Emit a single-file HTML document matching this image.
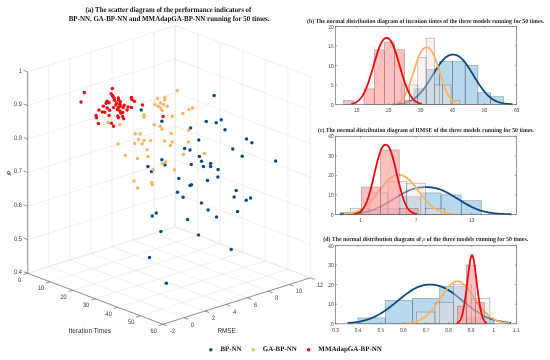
<!DOCTYPE html>
<html><head><meta charset="utf-8"><style>
html,body{margin:0;padding:0;background:#fff;width:550px;height:360px;overflow:hidden;}
svg{display:block;will-change:transform;} text{text-rendering:geometricPrecision;}
</style></head><body>
<svg width="550" height="360" viewBox="0 0 550 360">
<rect width="550" height="360" fill="#fff"/>
<line x1="27.75" y1="273.30" x2="175.24" y2="226.82" stroke="#e4e4e4" stroke-width="0.55" />
<line x1="50.27" y1="281.80" x2="197.77" y2="235.32" stroke="#e4e4e4" stroke-width="0.55" />
<line x1="72.80" y1="290.30" x2="220.29" y2="243.82" stroke="#e4e4e4" stroke-width="0.55" />
<line x1="95.33" y1="298.80" x2="242.81" y2="252.32" stroke="#e4e4e4" stroke-width="0.55" />
<line x1="117.85" y1="307.30" x2="265.34" y2="260.82" stroke="#e4e4e4" stroke-width="0.55" />
<line x1="140.38" y1="315.80" x2="287.87" y2="269.32" stroke="#e4e4e4" stroke-width="0.55" />
<line x1="162.90" y1="324.30" x2="310.39" y2="277.82" stroke="#e4e4e4" stroke-width="0.55" />
<line x1="27.75" y1="273.30" x2="162.90" y2="324.30" stroke="#e4e4e4" stroke-width="0.55" />
<line x1="48.82" y1="266.66" x2="183.97" y2="317.66" stroke="#e4e4e4" stroke-width="0.55" />
<line x1="69.89" y1="260.02" x2="205.04" y2="311.02" stroke="#e4e4e4" stroke-width="0.55" />
<line x1="90.96" y1="253.38" x2="226.11" y2="304.38" stroke="#e4e4e4" stroke-width="0.55" />
<line x1="112.03" y1="246.74" x2="247.18" y2="297.74" stroke="#e4e4e4" stroke-width="0.55" />
<line x1="133.10" y1="240.10" x2="268.25" y2="291.10" stroke="#e4e4e4" stroke-width="0.55" />
<line x1="154.17" y1="233.46" x2="289.32" y2="284.46" stroke="#e4e4e4" stroke-width="0.55" />
<line x1="175.24" y1="226.82" x2="310.39" y2="277.82" stroke="#e4e4e4" stroke-width="0.55" />
<line x1="27.75" y1="273.30" x2="27.75" y2="72.00" stroke="#e4e4e4" stroke-width="0.55" />
<line x1="48.82" y1="266.66" x2="48.82" y2="65.36" stroke="#e4e4e4" stroke-width="0.55" />
<line x1="69.89" y1="260.02" x2="69.89" y2="58.72" stroke="#e4e4e4" stroke-width="0.55" />
<line x1="90.96" y1="253.38" x2="90.96" y2="52.08" stroke="#e4e4e4" stroke-width="0.55" />
<line x1="112.03" y1="246.74" x2="112.03" y2="45.44" stroke="#e4e4e4" stroke-width="0.55" />
<line x1="133.10" y1="240.10" x2="133.10" y2="38.80" stroke="#e4e4e4" stroke-width="0.55" />
<line x1="154.17" y1="233.46" x2="154.17" y2="32.16" stroke="#e4e4e4" stroke-width="0.55" />
<line x1="175.24" y1="226.82" x2="175.24" y2="25.52" stroke="#e4e4e4" stroke-width="0.55" />
<line x1="27.75" y1="273.30" x2="175.24" y2="226.82" stroke="#e4e4e4" stroke-width="0.55" />
<line x1="27.75" y1="239.75" x2="175.24" y2="193.27" stroke="#e4e4e4" stroke-width="0.55" />
<line x1="27.75" y1="206.20" x2="175.24" y2="159.72" stroke="#e4e4e4" stroke-width="0.55" />
<line x1="27.75" y1="172.65" x2="175.24" y2="126.17" stroke="#e4e4e4" stroke-width="0.55" />
<line x1="27.75" y1="139.10" x2="175.24" y2="92.62" stroke="#e4e4e4" stroke-width="0.55" />
<line x1="27.75" y1="105.55" x2="175.24" y2="59.07" stroke="#e4e4e4" stroke-width="0.55" />
<line x1="27.75" y1="72.00" x2="175.24" y2="25.52" stroke="#e4e4e4" stroke-width="0.55" />
<line x1="175.24" y1="226.82" x2="175.24" y2="25.52" stroke="#e4e4e4" stroke-width="0.55" />
<line x1="197.77" y1="235.32" x2="197.77" y2="34.02" stroke="#e4e4e4" stroke-width="0.55" />
<line x1="220.29" y1="243.82" x2="220.29" y2="42.52" stroke="#e4e4e4" stroke-width="0.55" />
<line x1="242.81" y1="252.32" x2="242.81" y2="51.02" stroke="#e4e4e4" stroke-width="0.55" />
<line x1="265.34" y1="260.82" x2="265.34" y2="59.52" stroke="#e4e4e4" stroke-width="0.55" />
<line x1="287.87" y1="269.32" x2="287.87" y2="68.02" stroke="#e4e4e4" stroke-width="0.55" />
<line x1="310.39" y1="277.82" x2="310.39" y2="76.52" stroke="#e4e4e4" stroke-width="0.55" />
<line x1="175.24" y1="226.82" x2="310.39" y2="277.82" stroke="#e4e4e4" stroke-width="0.55" />
<line x1="175.24" y1="193.27" x2="310.39" y2="244.27" stroke="#e4e4e4" stroke-width="0.55" />
<line x1="175.24" y1="159.72" x2="310.39" y2="210.72" stroke="#e4e4e4" stroke-width="0.55" />
<line x1="175.24" y1="126.17" x2="310.39" y2="177.17" stroke="#e4e4e4" stroke-width="0.55" />
<line x1="175.24" y1="92.62" x2="310.39" y2="143.62" stroke="#e4e4e4" stroke-width="0.55" />
<line x1="175.24" y1="59.07" x2="310.39" y2="110.07" stroke="#e4e4e4" stroke-width="0.55" />
<line x1="175.24" y1="25.52" x2="310.39" y2="76.52" stroke="#e4e4e4" stroke-width="0.55" />
<line x1="27.75" y1="273.30" x2="27.75" y2="72.00" stroke="#707070" stroke-width="0.75" />
<line x1="27.75" y1="273.30" x2="162.90" y2="324.30" stroke="#707070" stroke-width="0.75" />
<line x1="162.90" y1="324.30" x2="310.39" y2="277.82" stroke="#707070" stroke-width="0.75" />
<line x1="27.75" y1="273.30" x2="23.54" y2="271.71" stroke="#707070" stroke-width="0.75" />
<text transform="translate(21.84,274.06) scale(0.86,1)" x="0" y="0" font-family="Liberation Sans" font-size="6.5" font-weight="normal" text-anchor="end" fill="#383838" >0.4</text>
<line x1="27.75" y1="239.75" x2="23.54" y2="238.16" stroke="#707070" stroke-width="0.75" />
<text transform="translate(21.84,240.51) scale(0.86,1)" x="0" y="0" font-family="Liberation Sans" font-size="6.5" font-weight="normal" text-anchor="end" fill="#383838" >0.5</text>
<line x1="27.75" y1="206.20" x2="23.54" y2="204.61" stroke="#707070" stroke-width="0.75" />
<text transform="translate(21.84,206.96) scale(0.86,1)" x="0" y="0" font-family="Liberation Sans" font-size="6.5" font-weight="normal" text-anchor="end" fill="#383838" >0.6</text>
<line x1="27.75" y1="172.65" x2="23.54" y2="171.06" stroke="#707070" stroke-width="0.75" />
<text transform="translate(21.84,173.41) scale(0.86,1)" x="0" y="0" font-family="Liberation Sans" font-size="6.5" font-weight="normal" text-anchor="end" fill="#383838" >0.7</text>
<line x1="27.75" y1="139.10" x2="23.54" y2="137.51" stroke="#707070" stroke-width="0.75" />
<text transform="translate(21.84,139.86) scale(0.86,1)" x="0" y="0" font-family="Liberation Sans" font-size="6.5" font-weight="normal" text-anchor="end" fill="#383838" >0.8</text>
<line x1="27.75" y1="105.55" x2="23.54" y2="103.96" stroke="#707070" stroke-width="0.75" />
<text transform="translate(21.84,106.31) scale(0.86,1)" x="0" y="0" font-family="Liberation Sans" font-size="6.5" font-weight="normal" text-anchor="end" fill="#383838" >0.9</text>
<line x1="27.75" y1="72.00" x2="23.54" y2="70.41" stroke="#707070" stroke-width="0.75" />
<text transform="translate(21.84,72.76) scale(0.86,1)" x="0" y="0" font-family="Liberation Sans" font-size="6.5" font-weight="normal" text-anchor="end" fill="#383838" >1</text>
<line x1="27.75" y1="273.30" x2="23.46" y2="274.65" stroke="#707070" stroke-width="0.75" />
<text transform="translate(19.45,282.25) scale(0.86,1)" x="0" y="0" font-family="Liberation Sans" font-size="6.5" font-weight="normal" text-anchor="middle" fill="#383838" >0</text>
<line x1="50.27" y1="281.80" x2="45.98" y2="283.15" stroke="#707070" stroke-width="0.75" />
<text transform="translate(41.08,290.45) scale(0.86,1)" x="0" y="0" font-family="Liberation Sans" font-size="6.5" font-weight="normal" text-anchor="middle" fill="#383838" >10</text>
<line x1="72.80" y1="290.30" x2="68.51" y2="291.65" stroke="#707070" stroke-width="0.75" />
<text transform="translate(63.60,298.95) scale(0.86,1)" x="0" y="0" font-family="Liberation Sans" font-size="6.5" font-weight="normal" text-anchor="middle" fill="#383838" >20</text>
<line x1="95.33" y1="298.80" x2="91.03" y2="300.15" stroke="#707070" stroke-width="0.75" />
<text transform="translate(86.12,307.45) scale(0.86,1)" x="0" y="0" font-family="Liberation Sans" font-size="6.5" font-weight="normal" text-anchor="middle" fill="#383838" >30</text>
<line x1="117.85" y1="307.30" x2="113.56" y2="308.65" stroke="#707070" stroke-width="0.75" />
<text transform="translate(108.65,315.95) scale(0.86,1)" x="0" y="0" font-family="Liberation Sans" font-size="6.5" font-weight="normal" text-anchor="middle" fill="#383838" >40</text>
<line x1="140.38" y1="315.80" x2="136.08" y2="317.15" stroke="#707070" stroke-width="0.75" />
<text transform="translate(131.18,324.45) scale(0.86,1)" x="0" y="0" font-family="Liberation Sans" font-size="6.5" font-weight="normal" text-anchor="middle" fill="#383838" >50</text>
<line x1="162.90" y1="324.30" x2="158.61" y2="325.65" stroke="#707070" stroke-width="0.75" />
<text transform="translate(153.70,332.95) scale(0.86,1)" x="0" y="0" font-family="Liberation Sans" font-size="6.5" font-weight="normal" text-anchor="middle" fill="#383838" >60</text>
<line x1="162.90" y1="324.30" x2="167.11" y2="325.89" stroke="#707070" stroke-width="0.75" />
<text transform="translate(172.50,333.15) scale(0.86,1)" x="0" y="0" font-family="Liberation Sans" font-size="6.5" font-weight="normal" text-anchor="middle" fill="#383838" >-2</text>
<line x1="183.97" y1="317.66" x2="188.18" y2="319.25" stroke="#707070" stroke-width="0.75" />
<text transform="translate(192.37,326.81) scale(0.86,1)" x="0" y="0" font-family="Liberation Sans" font-size="6.5" font-weight="normal" text-anchor="middle" fill="#383838" >0</text>
<line x1="205.04" y1="311.02" x2="209.25" y2="312.61" stroke="#707070" stroke-width="0.75" />
<text transform="translate(213.44,320.17) scale(0.86,1)" x="0" y="0" font-family="Liberation Sans" font-size="6.5" font-weight="normal" text-anchor="middle" fill="#383838" >2</text>
<line x1="226.11" y1="304.38" x2="230.32" y2="305.97" stroke="#707070" stroke-width="0.75" />
<text transform="translate(234.51,313.53) scale(0.86,1)" x="0" y="0" font-family="Liberation Sans" font-size="6.5" font-weight="normal" text-anchor="middle" fill="#383838" >4</text>
<line x1="247.18" y1="297.74" x2="251.39" y2="299.33" stroke="#707070" stroke-width="0.75" />
<text transform="translate(255.58,306.89) scale(0.86,1)" x="0" y="0" font-family="Liberation Sans" font-size="6.5" font-weight="normal" text-anchor="middle" fill="#383838" >6</text>
<line x1="268.25" y1="291.10" x2="272.46" y2="292.69" stroke="#707070" stroke-width="0.75" />
<text transform="translate(276.65,300.25) scale(0.86,1)" x="0" y="0" font-family="Liberation Sans" font-size="6.5" font-weight="normal" text-anchor="middle" fill="#383838" >8</text>
<line x1="289.32" y1="284.46" x2="293.53" y2="286.05" stroke="#707070" stroke-width="0.75" />
<text transform="translate(298.92,293.31) scale(0.86,1)" x="0" y="0" font-family="Liberation Sans" font-size="6.5" font-weight="normal" text-anchor="middle" fill="#383838" >10</text>
<line x1="310.39" y1="277.82" x2="314.60" y2="279.41" stroke="#707070" stroke-width="0.75" />
<text transform="translate(319.99,286.67) scale(0.86,1)" x="0" y="0" font-family="Liberation Sans" font-size="6.5" font-weight="normal" text-anchor="middle" fill="#383838" >12</text>
<text x="89.85" y="332.50" font-family="Liberation Sans" font-size="7.2" font-weight="normal" text-anchor="middle" fill="#2a2a2a" textLength="42.3" lengthAdjust="spacingAndGlyphs">Iteration Times</text>
<text x="226.60" y="333.20" font-family="Liberation Sans" font-size="7.2" font-weight="normal" text-anchor="middle" fill="#2a2a2a" textLength="18.4" lengthAdjust="spacingAndGlyphs">RMSE</text>
<ellipse cx="8.6" cy="172.7" rx="1.45" ry="1.45" fill="none" stroke="#3a3a3a" stroke-width="0.75"/>
<path d="M8.0,174.1 Q9.6,174.4 11.3,174.9" fill="none" stroke="#3a3a3a" stroke-width="0.8"/>
<circle cx="141.25" cy="110" r="1.75" fill="#0b4a84"/>
<circle cx="161.9" cy="121.25" r="1.75" fill="#0b4a84"/>
<circle cx="214.1" cy="95.4" r="1.75" fill="#0b4a84"/>
<circle cx="206.25" cy="121.5" r="1.75" fill="#0b4a84"/>
<circle cx="216.25" cy="122.75" r="1.75" fill="#0b4a84"/>
<circle cx="221.25" cy="119.75" r="1.75" fill="#0b4a84"/>
<circle cx="190.6" cy="127.9" r="1.75" fill="#0b4a84"/>
<circle cx="225" cy="129.75" r="1.75" fill="#0b4a84"/>
<circle cx="198.75" cy="140" r="1.75" fill="#0b4a84"/>
<circle cx="184.6" cy="148.5" r="1.75" fill="#0b4a84"/>
<circle cx="190" cy="150" r="1.75" fill="#0b4a84"/>
<circle cx="199.4" cy="156.5" r="1.75" fill="#0b4a84"/>
<circle cx="201.5" cy="161.25" r="1.75" fill="#0b4a84"/>
<circle cx="210.6" cy="163.4" r="1.75" fill="#0b4a84"/>
<circle cx="191.25" cy="164.6" r="1.75" fill="#0b4a84"/>
<circle cx="246.5" cy="139.1" r="1.75" fill="#0b4a84"/>
<circle cx="251.9" cy="142.75" r="1.75" fill="#0b4a84"/>
<circle cx="232.75" cy="149" r="1.75" fill="#0b4a84"/>
<circle cx="242.25" cy="156.25" r="1.75" fill="#0b4a84"/>
<circle cx="275.6" cy="160.9" r="1.75" fill="#0b4a84"/>
<circle cx="161.9" cy="159.75" r="1.75" fill="#0b4a84"/>
<circle cx="165" cy="164.9" r="1.75" fill="#0b4a84"/>
<circle cx="147.9" cy="166.6" r="1.75" fill="#0b4a84"/>
<circle cx="151.6" cy="171.5" r="1.75" fill="#0b4a84"/>
<circle cx="210.6" cy="166.5" r="1.75" fill="#0b4a84"/>
<circle cx="203.4" cy="166.6" r="1.75" fill="#0b4a84"/>
<circle cx="218.1" cy="169.6" r="1.75" fill="#0b4a84"/>
<circle cx="217.9" cy="176.9" r="1.75" fill="#0b4a84"/>
<circle cx="207.5" cy="180.4" r="1.75" fill="#0b4a84"/>
<circle cx="178.75" cy="178.5" r="1.75" fill="#0b4a84"/>
<circle cx="190" cy="185.4" r="1.75" fill="#0b4a84"/>
<circle cx="191.5" cy="184.75" r="1.75" fill="#0b4a84"/>
<circle cx="177.5" cy="192.25" r="1.75" fill="#0b4a84"/>
<circle cx="183.1" cy="197.25" r="1.75" fill="#0b4a84"/>
<circle cx="201.5" cy="202.9" r="1.75" fill="#0b4a84"/>
<circle cx="236.25" cy="190.6" r="1.75" fill="#0b4a84"/>
<circle cx="234.1" cy="197.1" r="1.75" fill="#0b4a84"/>
<circle cx="246.25" cy="200.25" r="1.75" fill="#0b4a84"/>
<circle cx="250.6" cy="198.1" r="1.75" fill="#0b4a84"/>
<circle cx="156.25" cy="213.1" r="1.75" fill="#0b4a84"/>
<circle cx="152.25" cy="215.9" r="1.75" fill="#0b4a84"/>
<circle cx="160.9" cy="231.6" r="1.75" fill="#0b4a84"/>
<circle cx="208.1" cy="210" r="1.75" fill="#0b4a84"/>
<circle cx="216.5" cy="216.9" r="1.75" fill="#0b4a84"/>
<circle cx="187.5" cy="219.4" r="1.75" fill="#0b4a84"/>
<circle cx="198.5" cy="235" r="1.75" fill="#0b4a84"/>
<circle cx="237.5" cy="211.6" r="1.75" fill="#0b4a84"/>
<circle cx="149.5" cy="257.5" r="1.75" fill="#0b4a84"/>
<circle cx="166.3" cy="283.3" r="1.75" fill="#0b4a84"/>
<circle cx="231.2" cy="249.5" r="1.75" fill="#0b4a84"/>
<circle cx="107.9" cy="122.2" r="1.75" fill="#fdb462"/>
<circle cx="119.8" cy="124.8" r="1.75" fill="#fdb462"/>
<circle cx="177.25" cy="90.6" r="1.75" fill="#fdb462"/>
<circle cx="157.5" cy="98.4" r="1.75" fill="#fdb462"/>
<circle cx="164.75" cy="97.5" r="1.75" fill="#fdb462"/>
<circle cx="164.75" cy="100" r="1.75" fill="#fdb462"/>
<circle cx="160.4" cy="103.1" r="1.75" fill="#fdb462"/>
<circle cx="163.75" cy="104.4" r="1.75" fill="#fdb462"/>
<circle cx="155" cy="104.6" r="1.75" fill="#fdb462"/>
<circle cx="158.1" cy="106.25" r="1.75" fill="#fdb462"/>
<circle cx="167.25" cy="106.25" r="1.75" fill="#fdb462"/>
<circle cx="160.6" cy="108.1" r="1.75" fill="#fdb462"/>
<circle cx="162.25" cy="110.6" r="1.75" fill="#fdb462"/>
<circle cx="144" cy="114.4" r="1.75" fill="#fdb462"/>
<circle cx="144" cy="117.25" r="1.75" fill="#fdb462"/>
<circle cx="172.25" cy="116.5" r="1.75" fill="#fdb462"/>
<circle cx="182.9" cy="113.5" r="1.75" fill="#fdb462"/>
<circle cx="154.3" cy="124.8" r="1.75" fill="#fdb462"/>
<circle cx="192.5" cy="107.75" r="1.75" fill="#fdb462"/>
<circle cx="189.1" cy="109.6" r="1.75" fill="#fdb462"/>
<circle cx="117.9" cy="144.1" r="1.75" fill="#fdb462"/>
<circle cx="135.4" cy="133.75" r="1.75" fill="#fdb462"/>
<circle cx="140.25" cy="134" r="1.75" fill="#fdb462"/>
<circle cx="138.4" cy="139.4" r="1.75" fill="#fdb462"/>
<circle cx="144.1" cy="140.6" r="1.75" fill="#fdb462"/>
<circle cx="142.25" cy="143.75" r="1.75" fill="#fdb462"/>
<circle cx="134.75" cy="143.4" r="1.75" fill="#fdb462"/>
<circle cx="150.6" cy="140.6" r="1.75" fill="#fdb462"/>
<circle cx="160.25" cy="126.25" r="1.75" fill="#fdb462"/>
<circle cx="162.1" cy="129.1" r="1.75" fill="#fdb462"/>
<circle cx="171.25" cy="133.5" r="1.75" fill="#fdb462"/>
<circle cx="164.4" cy="141" r="1.75" fill="#fdb462"/>
<circle cx="172.25" cy="141.9" r="1.75" fill="#fdb462"/>
<circle cx="170.4" cy="145.4" r="1.75" fill="#fdb462"/>
<circle cx="147.1" cy="149.75" r="1.75" fill="#fdb462"/>
<circle cx="125.25" cy="155.25" r="1.75" fill="#fdb462"/>
<circle cx="147.9" cy="156.5" r="1.75" fill="#fdb462"/>
<circle cx="137.5" cy="158.5" r="1.75" fill="#fdb462"/>
<circle cx="165.6" cy="161.9" r="1.75" fill="#fdb462"/>
<circle cx="162.5" cy="163.75" r="1.75" fill="#fdb462"/>
<circle cx="188.75" cy="130.25" r="1.75" fill="#fdb462"/>
<circle cx="188.5" cy="142.1" r="1.75" fill="#fdb462"/>
<circle cx="183.5" cy="154.4" r="1.75" fill="#fdb462"/>
<circle cx="204.4" cy="153.4" r="1.75" fill="#fdb462"/>
<circle cx="153.1" cy="169.75" r="1.75" fill="#fdb462"/>
<circle cx="174.4" cy="170" r="1.75" fill="#fdb462"/>
<circle cx="134" cy="181" r="1.75" fill="#fdb462"/>
<circle cx="151.9" cy="182.5" r="1.75" fill="#fdb462"/>
<circle cx="152.25" cy="184.75" r="1.75" fill="#fdb462"/>
<circle cx="137.5" cy="188.1" r="1.75" fill="#fdb462"/>
<circle cx="112.5" cy="95.5" r="1.75" fill="#eb0a0f"/>
<circle cx="114.0" cy="97.9" r="1.75" fill="#eb0a0f"/>
<circle cx="114.4" cy="100.3" r="1.75" fill="#eb0a0f"/>
<circle cx="118.3" cy="97.9" r="1.75" fill="#eb0a0f"/>
<circle cx="118.8" cy="100.3" r="1.75" fill="#eb0a0f"/>
<circle cx="120.3" cy="101.8" r="1.75" fill="#eb0a0f"/>
<circle cx="119.8" cy="104.2" r="1.75" fill="#eb0a0f"/>
<circle cx="107.1" cy="101.3" r="1.75" fill="#eb0a0f"/>
<circle cx="109.1" cy="102.8" r="1.75" fill="#eb0a0f"/>
<circle cx="106.2" cy="103.3" r="1.75" fill="#eb0a0f"/>
<circle cx="103.3" cy="106.2" r="1.75" fill="#eb0a0f"/>
<circle cx="98.9" cy="110.1" r="1.75" fill="#eb0a0f"/>
<circle cx="102.3" cy="112.0" r="1.75" fill="#eb0a0f"/>
<circle cx="104.7" cy="112.3" r="1.75" fill="#eb0a0f"/>
<circle cx="107.1" cy="108.1" r="1.75" fill="#eb0a0f"/>
<circle cx="109.6" cy="110.3" r="1.75" fill="#eb0a0f"/>
<circle cx="113.5" cy="107.4" r="1.75" fill="#eb0a0f"/>
<circle cx="115.9" cy="104.7" r="1.75" fill="#eb0a0f"/>
<circle cx="118.3" cy="107.6" r="1.75" fill="#eb0a0f"/>
<circle cx="117.4" cy="109.6" r="1.75" fill="#eb0a0f"/>
<circle cx="119.8" cy="111.0" r="1.75" fill="#eb0a0f"/>
<circle cx="122.7" cy="112.5" r="1.75" fill="#eb0a0f"/>
<circle cx="120.8" cy="113.0" r="1.75" fill="#eb0a0f"/>
<circle cx="124.2" cy="105.2" r="1.75" fill="#eb0a0f"/>
<circle cx="123.2" cy="107.6" r="1.75" fill="#eb0a0f"/>
<circle cx="128.0" cy="107.1" r="1.75" fill="#eb0a0f"/>
<circle cx="127.1" cy="110.1" r="1.75" fill="#eb0a0f"/>
<circle cx="131.4" cy="107.6" r="1.75" fill="#eb0a0f"/>
<circle cx="131.4" cy="97.4" r="1.75" fill="#eb0a0f"/>
<circle cx="131.9" cy="99.4" r="1.75" fill="#eb0a0f"/>
<circle cx="134.4" cy="101.3" r="1.75" fill="#eb0a0f"/>
<circle cx="96.0" cy="115.4" r="1.75" fill="#eb0a0f"/>
<circle cx="96.5" cy="117.8" r="1.75" fill="#eb0a0f"/>
<circle cx="109.1" cy="115.4" r="1.75" fill="#eb0a0f"/>
<circle cx="117.8" cy="115.9" r="1.75" fill="#eb0a0f"/>
<circle cx="118.3" cy="117.8" r="1.75" fill="#eb0a0f"/>
<circle cx="122.7" cy="116.4" r="1.75" fill="#eb0a0f"/>
<circle cx="123.7" cy="118.8" r="1.75" fill="#eb0a0f"/>
<circle cx="98.4" cy="123.4" r="1.75" fill="#eb0a0f"/>
<circle cx="111.5" cy="123.2" r="1.75" fill="#eb0a0f"/>
<circle cx="113.5" cy="126.3" r="1.75" fill="#eb0a0f"/>
<circle cx="112.3" cy="88.6" r="1.75" fill="#eb0a0f"/>
<circle cx="111.1" cy="93.7" r="1.75" fill="#eb0a0f"/>
<circle cx="84.4" cy="92.5" r="1.75" fill="#eb0a0f"/>
<circle cx="81.0" cy="102.1" r="1.75" fill="#eb0a0f"/>
<circle cx="142.5" cy="105" r="1.75" fill="#eb0a0f"/>
<circle cx="163.1" cy="116.5" r="1.75" fill="#eb0a0f"/>
<circle cx="120.2" cy="106.2" r="1.75" fill="#eb0a0f"/>
<circle cx="112.8" cy="96.5" r="1.75" fill="#eb0a0f"/>
<circle cx="116.5" cy="103" r="1.75" fill="#eb0a0f"/>
<text x="168.40" y="11.90" font-family="Liberation Serif" font-size="7.6" font-weight="bold" text-anchor="middle" fill="#111" textLength="165.8" lengthAdjust="spacingAndGlyphs">(a) The scatter diagram of the performance indicators of</text>
<text x="169.10" y="21.30" font-family="Liberation Serif" font-size="7.6" font-weight="bold" text-anchor="middle" fill="#111" textLength="200.8" lengthAdjust="spacingAndGlyphs">BP-NN, GA-BP-NN and MMAdapGA-BP-NN running for 50 times.</text>
<rect x="413.91" y="88.88" width="12.81" height="15.62" fill="rgba(0,114,189,0.28)" stroke="#3a3a3a" stroke-opacity="0.55" stroke-width="0.5"/>
<rect x="426.72" y="69.36" width="12.81" height="35.14" fill="rgba(0,114,189,0.28)" stroke="#3a3a3a" stroke-opacity="0.55" stroke-width="0.5"/>
<rect x="439.53" y="61.55" width="12.81" height="42.95" fill="rgba(0,114,189,0.28)" stroke="#3a3a3a" stroke-opacity="0.55" stroke-width="0.5"/>
<rect x="452.34" y="61.55" width="12.81" height="42.95" fill="rgba(0,114,189,0.28)" stroke="#3a3a3a" stroke-opacity="0.55" stroke-width="0.5"/>
<rect x="465.15" y="65.45" width="12.81" height="39.05" fill="rgba(0,114,189,0.28)" stroke="#3a3a3a" stroke-opacity="0.55" stroke-width="0.5"/>
<rect x="477.96" y="92.78" width="12.81" height="11.72" fill="rgba(0,114,189,0.28)" stroke="#3a3a3a" stroke-opacity="0.55" stroke-width="0.5"/>
<rect x="490.77" y="96.69" width="12.81" height="7.81" fill="rgba(0,114,189,0.28)" stroke="#3a3a3a" stroke-opacity="0.55" stroke-width="0.5"/>
<polyline points="392.60,104.31 393.60,104.27 394.60,104.22 395.60,104.16 396.60,104.09 397.60,104.01 398.60,103.91 399.60,103.80 400.60,103.67 401.60,103.51 402.60,103.34 403.60,103.14 404.60,102.91 405.60,102.65 406.60,102.35 407.60,102.02 408.60,101.65 409.60,101.22 410.60,100.76 411.60,100.24 412.60,99.66 413.60,99.03 414.60,98.33 415.60,97.58 416.60,96.75 417.60,95.86 418.60,94.90 419.60,93.88 420.60,92.78 421.60,91.61 422.60,90.38 423.60,89.08 424.60,87.72 425.60,86.30 426.60,84.83 427.60,83.31 428.60,81.74 429.60,80.14 430.60,78.52 431.60,76.88 432.60,75.23 433.60,73.57 434.60,71.93 435.60,70.31 436.60,68.73 437.60,67.18 438.60,65.69 439.60,64.26 440.60,62.90 441.60,61.63 442.60,60.44 443.60,59.35 444.60,58.37 445.60,57.49 446.60,56.73 447.60,56.08 448.60,55.56 449.60,55.15 450.60,54.86 451.60,54.68 452.60,54.61 453.60,54.61 454.60,54.71 455.60,54.91 456.60,55.22 457.60,55.65 458.60,56.20 459.60,56.87 460.60,57.66 461.60,58.55 462.60,59.56 463.60,60.67 464.60,61.87 465.60,63.17 466.60,64.54 467.60,65.98 468.60,67.49 469.60,69.04 470.60,70.64 471.60,72.26 472.60,73.90 473.60,75.56 474.60,77.21 475.60,78.85 476.60,80.47 477.60,82.06 478.60,83.61 479.60,85.13 480.60,86.59 481.60,88.00 482.60,89.34 483.60,90.63 484.60,91.85 485.60,93.00 486.60,94.09 487.60,95.10 488.60,96.05 489.60,96.92 490.60,97.73 491.60,98.48 492.60,99.16 493.60,99.78 494.60,100.34 495.60,100.85 496.60,101.31 497.60,101.72 498.60,102.09 499.60,102.42 500.60,102.71 501.60,102.96 502.60,103.18 503.60,103.38 504.60,103.55 505.60,103.69 506.60,103.82 507.60,103.93 508.60,104.02 509.60,104.10 510.60,104.17 511.60,104.23 512.60,104.28" fill="none" stroke="#0b4a84" stroke-width="1.8" stroke-linejoin="round" stroke-linecap="butt"/>
<rect x="401.20" y="84.97" width="8.30" height="19.53" fill="rgba(240,224,222,0.42)" stroke="#3a3a3a" stroke-opacity="0.55" stroke-width="0.5"/>
<rect x="409.50" y="84.97" width="8.30" height="19.53" fill="rgba(240,224,222,0.42)" stroke="#3a3a3a" stroke-opacity="0.55" stroke-width="0.5"/>
<rect x="417.80" y="57.64" width="8.30" height="46.86" fill="rgba(240,224,222,0.42)" stroke="#3a3a3a" stroke-opacity="0.55" stroke-width="0.5"/>
<rect x="426.10" y="38.12" width="8.30" height="66.38" fill="rgba(240,224,222,0.42)" stroke="#3a3a3a" stroke-opacity="0.55" stroke-width="0.5"/>
<rect x="434.40" y="84.97" width="8.30" height="19.53" fill="rgba(240,224,222,0.42)" stroke="#3a3a3a" stroke-opacity="0.55" stroke-width="0.5"/>
<rect x="442.70" y="84.97" width="8.30" height="19.53" fill="rgba(240,224,222,0.42)" stroke="#3a3a3a" stroke-opacity="0.55" stroke-width="0.5"/>
<rect x="451.00" y="100.59" width="8.30" height="3.91" fill="rgba(240,224,222,0.42)" stroke="#3a3a3a" stroke-opacity="0.55" stroke-width="0.5"/>
<polyline points="392.00,104.21 392.58,104.15 393.15,104.08 393.73,103.99 394.31,103.88 394.88,103.75 395.46,103.61 396.04,103.44 396.61,103.24 397.19,103.01 397.77,102.75 398.34,102.45 398.92,102.11 399.50,101.72 400.07,101.28 400.65,100.79 401.23,100.25 401.80,99.64 402.38,98.96 402.96,98.22 403.53,97.41 404.11,96.52 404.69,95.56 405.26,94.52 405.84,93.40 406.42,92.20 406.99,90.92 407.57,89.56 408.15,88.13 408.72,86.63 409.30,85.06 409.88,83.42 410.45,81.73 411.03,79.99 411.61,78.21 412.18,76.40 412.76,74.56 413.34,72.70 413.91,70.85 414.49,69.00 415.07,67.17 415.64,65.37 416.22,63.61 416.80,61.90 417.37,60.26 417.95,58.68 418.53,57.19 419.10,55.79 419.68,54.48 420.26,53.28 420.83,52.19 421.41,51.22 421.99,50.36 422.56,49.62 423.14,48.99 423.72,48.49 424.29,48.09 424.87,47.81 425.45,47.62 426.02,47.52 426.60,47.50 427.18,47.52 427.75,47.62 428.33,47.81 428.91,48.09 429.48,48.49 430.06,48.99 430.64,49.62 431.21,50.36 431.79,51.22 432.37,52.19 432.94,53.28 433.52,54.48 434.10,55.79 434.67,57.19 435.25,58.68 435.83,60.26 436.40,61.90 436.98,63.61 437.56,65.37 438.13,67.17 438.71,69.00 439.29,70.85 439.86,72.70 440.44,74.56 441.02,76.40 441.59,78.21 442.17,79.99 442.75,81.73 443.32,83.42 443.90,85.06 444.48,86.63 445.05,88.13 445.63,89.56 446.21,90.92 446.78,92.20 447.36,93.40 447.94,94.52 448.51,95.56 449.09,96.52 449.67,97.41 450.24,98.22 450.82,98.96 451.40,99.64 451.97,100.25 452.55,100.79 453.13,101.28 453.70,101.72 454.28,102.11 454.86,102.45 455.43,102.75 456.01,103.01 456.59,103.24 457.16,103.44 457.74,103.61 458.32,103.75 458.89,103.88 459.47,103.99 460.05,104.08 460.62,104.15 461.20,104.21" fill="none" stroke="#fdb462" stroke-width="1.8" stroke-linejoin="round" stroke-linecap="butt"/>
<rect x="343.70" y="100.59" width="10.17" height="3.91" fill="rgba(255,150,150,0.6)" stroke="#3a3a3a" stroke-opacity="0.55" stroke-width="0.5"/>
<rect x="364.04" y="88.88" width="10.17" height="15.62" fill="rgba(255,150,150,0.6)" stroke="#3a3a3a" stroke-opacity="0.55" stroke-width="0.5"/>
<rect x="374.21" y="49.83" width="10.17" height="54.67" fill="rgba(255,150,150,0.6)" stroke="#3a3a3a" stroke-opacity="0.55" stroke-width="0.5"/>
<rect x="384.38" y="42.02" width="10.17" height="62.48" fill="rgba(255,150,150,0.6)" stroke="#3a3a3a" stroke-opacity="0.55" stroke-width="0.5"/>
<rect x="394.55" y="49.83" width="10.17" height="54.67" fill="rgba(255,150,150,0.6)" stroke="#3a3a3a" stroke-opacity="0.55" stroke-width="0.5"/>
<rect x="404.72" y="100.59" width="10.17" height="3.91" fill="rgba(255,150,150,0.6)" stroke="#3a3a3a" stroke-opacity="0.55" stroke-width="0.5"/>
<polyline points="351.30,103.85 351.89,103.73 352.48,103.60 353.06,103.44 353.65,103.27 354.24,103.06 354.82,102.83 355.41,102.57 356.00,102.27 356.59,101.94 357.18,101.57 357.76,101.15 358.35,100.69 358.94,100.17 359.53,99.60 360.11,98.97 360.70,98.28 361.29,97.52 361.88,96.70 362.46,95.81 363.05,94.84 363.64,93.79 364.23,92.67 364.81,91.48 365.40,90.20 365.99,88.84 366.57,87.41 367.16,85.90 367.75,84.31 368.34,82.65 368.93,80.93 369.51,79.14 370.10,77.29 370.69,75.40 371.28,73.45 371.86,71.47 372.45,69.47 373.04,67.44 373.62,65.40 374.21,63.37 374.80,61.35 375.39,59.35 375.98,57.38 376.56,55.46 377.15,53.59 377.74,51.79 378.32,50.06 378.91,48.42 379.50,46.88 380.09,45.44 380.68,44.12 381.26,42.91 381.85,41.83 382.44,40.88 383.03,40.06 383.61,39.37 384.20,38.82 384.79,38.40 385.38,38.12 385.96,37.95 386.55,37.90 387.14,37.94 387.73,38.08 388.31,38.35 388.90,38.74 389.49,39.27 390.07,39.93 390.66,40.73 391.25,41.66 391.84,42.72 392.43,43.90 393.01,45.21 393.60,46.63 394.19,48.15 394.78,49.78 395.36,51.49 395.95,53.28 396.54,55.13 397.12,57.05 397.71,59.01 398.30,61.00 398.89,63.02 399.48,65.06 400.06,67.09 400.65,69.12 401.24,71.13 401.82,73.12 402.41,75.07 403.00,76.97 403.59,78.83 404.18,80.63 404.76,82.36 405.35,84.03 405.94,85.63 406.53,87.16 407.11,88.60 407.70,89.97 408.29,91.26 408.88,92.48 409.46,93.61 410.05,94.67 410.64,95.65 411.23,96.55 411.81,97.39 412.40,98.16 412.99,98.86 413.57,99.50 414.16,100.08 414.75,100.60 415.34,101.08 415.93,101.50 416.51,101.88 417.10,102.22 417.69,102.52 418.27,102.79 418.86,103.03 419.45,103.23 420.04,103.41 420.62,103.57 421.21,103.71 421.80,103.83" fill="none" stroke="#eb0a0f" stroke-width="1.8" stroke-linejoin="round" stroke-linecap="butt"/>
<rect x="335.6" y="26.4" width="180.80" height="78.10" fill="none" stroke="#6a6a6a" stroke-width="0.7"/>
<line x1="335.60" y1="104.50" x2="337.20" y2="104.50" stroke="#6a6a6a" stroke-width="0.6" />
<line x1="516.40" y1="104.50" x2="514.80" y2="104.50" stroke="#6a6a6a" stroke-width="0.6" />
<text transform="translate(333.60,106.60) scale(0.86,1)" x="0" y="0" font-family="Liberation Sans" font-size="5.6" font-weight="normal" text-anchor="end" fill="#404040" >0</text>
<line x1="335.60" y1="84.97" x2="337.20" y2="84.97" stroke="#6a6a6a" stroke-width="0.6" />
<line x1="516.40" y1="84.97" x2="514.80" y2="84.97" stroke="#6a6a6a" stroke-width="0.6" />
<text transform="translate(333.60,87.07) scale(0.86,1)" x="0" y="0" font-family="Liberation Sans" font-size="5.6" font-weight="normal" text-anchor="end" fill="#404040" >5</text>
<line x1="335.60" y1="65.45" x2="337.20" y2="65.45" stroke="#6a6a6a" stroke-width="0.6" />
<line x1="516.40" y1="65.45" x2="514.80" y2="65.45" stroke="#6a6a6a" stroke-width="0.6" />
<text transform="translate(333.60,67.55) scale(0.86,1)" x="0" y="0" font-family="Liberation Sans" font-size="5.6" font-weight="normal" text-anchor="end" fill="#404040" >10</text>
<line x1="335.60" y1="45.93" x2="337.20" y2="45.93" stroke="#6a6a6a" stroke-width="0.6" />
<line x1="516.40" y1="45.93" x2="514.80" y2="45.93" stroke="#6a6a6a" stroke-width="0.6" />
<text transform="translate(333.60,48.03) scale(0.86,1)" x="0" y="0" font-family="Liberation Sans" font-size="5.6" font-weight="normal" text-anchor="end" fill="#404040" >15</text>
<line x1="335.60" y1="26.40" x2="337.20" y2="26.40" stroke="#6a6a6a" stroke-width="0.6" />
<line x1="516.40" y1="26.40" x2="514.80" y2="26.40" stroke="#6a6a6a" stroke-width="0.6" />
<text transform="translate(333.60,28.50) scale(0.86,1)" x="0" y="0" font-family="Liberation Sans" font-size="5.6" font-weight="normal" text-anchor="end" fill="#404040" >20</text>
<line x1="356.70" y1="104.50" x2="356.70" y2="102.90" stroke="#6a6a6a" stroke-width="0.6" />
<line x1="356.70" y1="26.40" x2="356.70" y2="28.00" stroke="#6a6a6a" stroke-width="0.6" />
<text transform="translate(356.70,112.40) scale(0.86,1)" x="0" y="0" font-family="Liberation Sans" font-size="5.6" font-weight="normal" text-anchor="middle" fill="#404040" >10</text>
<line x1="388.67" y1="104.50" x2="388.67" y2="102.90" stroke="#6a6a6a" stroke-width="0.6" />
<line x1="388.67" y1="26.40" x2="388.67" y2="28.00" stroke="#6a6a6a" stroke-width="0.6" />
<text transform="translate(388.67,112.40) scale(0.86,1)" x="0" y="0" font-family="Liberation Sans" font-size="5.6" font-weight="normal" text-anchor="middle" fill="#404040" >20</text>
<line x1="420.64" y1="104.50" x2="420.64" y2="102.90" stroke="#6a6a6a" stroke-width="0.6" />
<line x1="420.64" y1="26.40" x2="420.64" y2="28.00" stroke="#6a6a6a" stroke-width="0.6" />
<text transform="translate(420.64,112.40) scale(0.86,1)" x="0" y="0" font-family="Liberation Sans" font-size="5.6" font-weight="normal" text-anchor="middle" fill="#404040" >30</text>
<line x1="452.61" y1="104.50" x2="452.61" y2="102.90" stroke="#6a6a6a" stroke-width="0.6" />
<line x1="452.61" y1="26.40" x2="452.61" y2="28.00" stroke="#6a6a6a" stroke-width="0.6" />
<text transform="translate(452.61,112.40) scale(0.86,1)" x="0" y="0" font-family="Liberation Sans" font-size="5.6" font-weight="normal" text-anchor="middle" fill="#404040" >40</text>
<line x1="484.58" y1="104.50" x2="484.58" y2="102.90" stroke="#6a6a6a" stroke-width="0.6" />
<line x1="484.58" y1="26.40" x2="484.58" y2="28.00" stroke="#6a6a6a" stroke-width="0.6" />
<text transform="translate(484.58,112.40) scale(0.86,1)" x="0" y="0" font-family="Liberation Sans" font-size="5.6" font-weight="normal" text-anchor="middle" fill="#404040" >50</text>
<line x1="516.55" y1="104.50" x2="516.55" y2="102.90" stroke="#6a6a6a" stroke-width="0.6" />
<line x1="516.55" y1="26.40" x2="516.55" y2="28.00" stroke="#6a6a6a" stroke-width="0.6" />
<text transform="translate(516.55,112.40) scale(0.86,1)" x="0" y="0" font-family="Liberation Sans" font-size="5.6" font-weight="normal" text-anchor="middle" fill="#404040" >60</text>
<text x="425.60" y="22.8" font-family="Liberation Serif" font-weight="bold" font-size="6.2" text-anchor="middle" fill="#262626" textLength="237.2" lengthAdjust="spacingAndGlyphs">(b) The normal distribution diagram of iteration times of the three models running for 50 times.</text>
<rect x="340.00" y="212.45" width="20.20" height="1.95" fill="rgba(0,114,189,0.28)" stroke="#3a3a3a" stroke-opacity="0.55" stroke-width="0.5"/>
<rect x="360.20" y="210.50" width="20.20" height="3.91" fill="rgba(0,114,189,0.28)" stroke="#3a3a3a" stroke-opacity="0.55" stroke-width="0.5"/>
<rect x="380.40" y="208.54" width="20.20" height="5.86" fill="rgba(0,114,189,0.28)" stroke="#3a3a3a" stroke-opacity="0.55" stroke-width="0.5"/>
<rect x="400.60" y="196.83" width="20.20" height="17.57" fill="rgba(0,114,189,0.28)" stroke="#3a3a3a" stroke-opacity="0.55" stroke-width="0.5"/>
<rect x="420.80" y="192.92" width="20.20" height="21.48" fill="rgba(0,114,189,0.28)" stroke="#3a3a3a" stroke-opacity="0.55" stroke-width="0.5"/>
<rect x="441.00" y="194.88" width="20.20" height="19.53" fill="rgba(0,114,189,0.28)" stroke="#3a3a3a" stroke-opacity="0.55" stroke-width="0.5"/>
<rect x="461.20" y="200.73" width="20.20" height="13.67" fill="rgba(0,114,189,0.28)" stroke="#3a3a3a" stroke-opacity="0.55" stroke-width="0.5"/>
<polyline points="340.00,214.28 341.43,214.25 342.86,214.22 344.29,214.18 345.72,214.14 347.15,214.08 348.58,214.02 350.01,213.94 351.44,213.86 352.87,213.75 354.30,213.64 355.73,213.50 357.16,213.35 358.59,213.18 360.02,212.98 361.45,212.76 362.88,212.51 364.31,212.23 365.74,211.92 367.17,211.58 368.60,211.20 370.03,210.79 371.46,210.34 372.89,209.85 374.32,209.33 375.75,208.76 377.18,208.16 378.61,207.52 380.04,206.84 381.47,206.13 382.90,205.38 384.33,204.60 385.76,203.80 387.19,202.96 388.62,202.11 390.05,201.24 391.48,200.35 392.91,199.46 394.34,198.57 395.77,197.67 397.20,196.79 398.63,195.91 400.06,195.06 401.49,194.23 402.92,193.43 404.35,192.66 405.78,191.94 407.21,191.25 408.64,190.62 410.07,190.03 411.50,189.50 412.93,189.02 414.36,188.60 415.79,188.24 417.22,187.93 418.65,187.68 420.08,187.49 421.51,187.35 422.94,187.26 424.37,187.21 425.80,187.20 427.23,187.21 428.66,187.26 430.09,187.35 431.52,187.49 432.95,187.68 434.38,187.93 435.81,188.24 437.24,188.60 438.67,189.02 440.10,189.50 441.53,190.03 442.96,190.62 444.39,191.25 445.82,191.94 447.25,192.66 448.68,193.43 450.11,194.23 451.54,195.06 452.97,195.91 454.40,196.79 455.83,197.67 457.26,198.57 458.69,199.46 460.12,200.35 461.55,201.24 462.98,202.11 464.41,202.96 465.84,203.80 467.27,204.60 468.70,205.38 470.13,206.13 471.56,206.84 472.99,207.52 474.42,208.16 475.85,208.76 477.28,209.33 478.71,209.85 480.14,210.34 481.57,210.79 483.00,211.20 484.43,211.58 485.86,211.92 487.29,212.23 488.72,212.51 490.15,212.76 491.58,212.98 493.01,213.18 494.44,213.35 495.87,213.50 497.30,213.64 498.73,213.75 500.16,213.86 501.59,213.94 503.02,214.02 504.45,214.08 505.88,214.14 507.31,214.18 508.74,214.22 510.17,214.25 511.60,214.28" fill="none" stroke="#0b4a84" stroke-width="1.8" stroke-linejoin="round" stroke-linecap="butt"/>
<rect x="350.40" y="208.54" width="18.80" height="5.86" fill="rgba(240,224,222,0.42)" stroke="#3a3a3a" stroke-opacity="0.55" stroke-width="0.5"/>
<rect x="369.20" y="192.92" width="18.80" height="21.48" fill="rgba(240,224,222,0.42)" stroke="#3a3a3a" stroke-opacity="0.55" stroke-width="0.5"/>
<rect x="388.00" y="181.21" width="18.80" height="33.19" fill="rgba(240,224,222,0.42)" stroke="#3a3a3a" stroke-opacity="0.55" stroke-width="0.5"/>
<rect x="406.80" y="183.16" width="18.80" height="31.24" fill="rgba(240,224,222,0.42)" stroke="#3a3a3a" stroke-opacity="0.55" stroke-width="0.5"/>
<rect x="425.60" y="208.54" width="18.80" height="5.86" fill="rgba(240,224,222,0.42)" stroke="#3a3a3a" stroke-opacity="0.55" stroke-width="0.5"/>
<polyline points="343.90,214.00 344.82,213.93 345.73,213.85 346.65,213.75 347.56,213.65 348.48,213.53 349.39,213.39 350.31,213.24 351.23,213.06 352.14,212.87 353.06,212.65 353.97,212.40 354.89,212.13 355.81,211.83 356.72,211.49 357.64,211.13 358.55,210.72 359.47,210.28 360.38,209.81 361.30,209.29 362.22,208.72 363.13,208.12 364.05,207.46 364.96,206.77 365.88,206.02 366.80,205.24 367.71,204.40 368.63,203.52 369.54,202.59 370.46,201.63 371.38,200.62 372.29,199.57 373.21,198.49 374.12,197.38 375.04,196.24 375.95,195.08 376.87,193.89 377.79,192.70 378.70,191.49 379.62,190.29 380.53,189.09 381.45,187.90 382.37,186.72 383.28,185.57 384.20,184.45 385.11,183.37 386.03,182.33 386.94,181.34 387.86,180.40 388.78,179.53 389.69,178.72 390.61,177.98 391.52,177.32 392.44,176.73 393.36,176.23 394.27,175.80 395.19,175.46 396.10,175.20 397.02,175.03 397.93,174.93 398.85,174.90 399.77,174.93 400.68,175.04 401.60,175.23 402.51,175.50 403.43,175.85 404.35,176.28 405.26,176.79 406.18,177.39 407.09,178.06 408.01,178.81 408.92,179.62 409.84,180.50 410.76,181.45 411.67,182.44 412.59,183.49 413.50,184.57 414.42,185.70 415.33,186.85 416.25,188.02 417.17,189.22 418.08,190.42 419.00,191.62 419.91,192.83 420.83,194.02 421.75,195.20 422.66,196.37 423.58,197.50 424.49,198.61 425.41,199.69 426.32,200.73 427.24,201.74 428.16,202.70 429.07,203.62 429.99,204.49 430.90,205.32 431.82,206.11 432.74,206.85 433.65,207.54 434.57,208.18 435.48,208.79 436.40,209.34 437.31,209.86 438.23,210.33 439.15,210.77 440.06,211.17 440.98,211.53 441.89,211.86 442.81,212.16 443.73,212.43 444.64,212.67 445.56,212.89 446.47,213.08 447.39,213.25 448.31,213.41 449.22,213.54 450.14,213.66 451.05,213.76 451.97,213.86 452.88,213.94 453.80,214.00" fill="none" stroke="#fdb462" stroke-width="1.8" stroke-linejoin="round" stroke-linecap="butt"/>
<rect x="361.40" y="187.06" width="18.90" height="27.34" fill="rgba(255,150,150,0.6)" stroke="#3a3a3a" stroke-opacity="0.55" stroke-width="0.5"/>
<rect x="380.30" y="149.97" width="18.90" height="64.43" fill="rgba(255,150,150,0.6)" stroke="#3a3a3a" stroke-opacity="0.55" stroke-width="0.5"/>
<rect x="399.20" y="208.54" width="18.90" height="5.86" fill="rgba(255,150,150,0.6)" stroke="#3a3a3a" stroke-opacity="0.55" stroke-width="0.5"/>
<polyline points="354.00,214.05 354.53,213.98 355.05,213.89 355.58,213.79 356.11,213.67 356.63,213.53 357.16,213.36 357.69,213.17 358.21,212.95 358.74,212.70 359.27,212.40 359.79,212.07 360.32,211.69 360.85,211.26 361.37,210.78 361.90,210.24 362.43,209.63 362.95,208.95 363.48,208.21 364.01,207.38 364.53,206.48 365.06,205.49 365.59,204.41 366.11,203.24 366.64,201.98 367.17,200.62 367.69,199.17 368.22,197.62 368.75,195.98 369.27,194.25 369.80,192.43 370.33,190.53 370.85,188.56 371.38,186.51 371.91,184.40 372.43,182.23 372.96,180.02 373.49,177.78 374.01,175.52 374.54,173.25 375.07,170.98 375.59,168.73 376.12,166.51 376.65,164.34 377.17,162.23 377.70,160.19 378.23,158.24 378.75,156.38 379.28,154.64 379.81,153.01 380.33,151.52 380.86,150.17 381.39,148.96 381.91,147.90 382.44,146.99 382.97,146.24 383.49,145.65 384.02,145.21 384.55,144.91 385.07,144.75 385.60,144.70 386.13,144.75 386.65,144.91 387.18,145.21 387.71,145.65 388.23,146.24 388.76,146.99 389.29,147.90 389.81,148.96 390.34,150.17 390.87,151.52 391.39,153.01 391.92,154.64 392.45,156.38 392.97,158.24 393.50,160.19 394.03,162.23 394.55,164.34 395.08,166.51 395.61,168.73 396.13,170.98 396.66,173.25 397.19,175.52 397.71,177.78 398.24,180.02 398.77,182.23 399.29,184.40 399.82,186.51 400.35,188.56 400.87,190.53 401.40,192.43 401.93,194.25 402.45,195.98 402.98,197.62 403.51,199.17 404.03,200.62 404.56,201.98 405.09,203.24 405.61,204.41 406.14,205.49 406.67,206.48 407.19,207.38 407.72,208.21 408.25,208.95 408.77,209.63 409.30,210.24 409.83,210.78 410.35,211.26 410.88,211.69 411.41,212.07 411.93,212.40 412.46,212.70 412.99,212.95 413.51,213.17 414.04,213.36 414.57,213.53 415.09,213.67 415.62,213.79 416.15,213.89 416.67,213.98 417.20,214.05" fill="none" stroke="#eb0a0f" stroke-width="1.8" stroke-linejoin="round" stroke-linecap="butt"/>
<rect x="335.6" y="136.3" width="180.80" height="78.10" fill="none" stroke="#6a6a6a" stroke-width="0.7"/>
<line x1="335.60" y1="214.40" x2="337.20" y2="214.40" stroke="#6a6a6a" stroke-width="0.6" />
<line x1="516.40" y1="214.40" x2="514.80" y2="214.40" stroke="#6a6a6a" stroke-width="0.6" />
<text transform="translate(333.60,216.50) scale(0.86,1)" x="0" y="0" font-family="Liberation Sans" font-size="5.6" font-weight="normal" text-anchor="end" fill="#404040" >0</text>
<line x1="335.60" y1="194.88" x2="337.20" y2="194.88" stroke="#6a6a6a" stroke-width="0.6" />
<line x1="516.40" y1="194.88" x2="514.80" y2="194.88" stroke="#6a6a6a" stroke-width="0.6" />
<text transform="translate(333.60,196.97) scale(0.86,1)" x="0" y="0" font-family="Liberation Sans" font-size="5.6" font-weight="normal" text-anchor="end" fill="#404040" >10</text>
<line x1="335.60" y1="175.35" x2="337.20" y2="175.35" stroke="#6a6a6a" stroke-width="0.6" />
<line x1="516.40" y1="175.35" x2="514.80" y2="175.35" stroke="#6a6a6a" stroke-width="0.6" />
<text transform="translate(333.60,177.45) scale(0.86,1)" x="0" y="0" font-family="Liberation Sans" font-size="5.6" font-weight="normal" text-anchor="end" fill="#404040" >20</text>
<line x1="335.60" y1="155.83" x2="337.20" y2="155.83" stroke="#6a6a6a" stroke-width="0.6" />
<line x1="516.40" y1="155.83" x2="514.80" y2="155.83" stroke="#6a6a6a" stroke-width="0.6" />
<text transform="translate(333.60,157.93) scale(0.86,1)" x="0" y="0" font-family="Liberation Sans" font-size="5.6" font-weight="normal" text-anchor="end" fill="#404040" >30</text>
<line x1="335.60" y1="136.30" x2="337.20" y2="136.30" stroke="#6a6a6a" stroke-width="0.6" />
<line x1="516.40" y1="136.30" x2="514.80" y2="136.30" stroke="#6a6a6a" stroke-width="0.6" />
<text transform="translate(333.60,138.40) scale(0.86,1)" x="0" y="0" font-family="Liberation Sans" font-size="5.6" font-weight="normal" text-anchor="end" fill="#404040" >40</text>
<line x1="360.50" y1="214.40" x2="360.50" y2="212.80" stroke="#6a6a6a" stroke-width="0.6" />
<line x1="360.50" y1="136.30" x2="360.50" y2="137.90" stroke="#6a6a6a" stroke-width="0.6" />
<text transform="translate(360.50,222.30) scale(0.86,1)" x="0" y="0" font-family="Liberation Sans" font-size="5.6" font-weight="normal" text-anchor="middle" fill="#404040" >1</text>
<line x1="416.12" y1="214.40" x2="416.12" y2="212.80" stroke="#6a6a6a" stroke-width="0.6" />
<line x1="416.12" y1="136.30" x2="416.12" y2="137.90" stroke="#6a6a6a" stroke-width="0.6" />
<text transform="translate(416.12,222.30) scale(0.86,1)" x="0" y="0" font-family="Liberation Sans" font-size="5.6" font-weight="normal" text-anchor="middle" fill="#404040" >7</text>
<line x1="471.74" y1="214.40" x2="471.74" y2="212.80" stroke="#6a6a6a" stroke-width="0.6" />
<line x1="471.74" y1="136.30" x2="471.74" y2="137.90" stroke="#6a6a6a" stroke-width="0.6" />
<text transform="translate(471.74,222.30) scale(0.86,1)" x="0" y="0" font-family="Liberation Sans" font-size="5.6" font-weight="normal" text-anchor="middle" fill="#404040" >13</text>
<text x="426.00" y="131.6" font-family="Liberation Serif" font-weight="bold" font-size="6.2" text-anchor="middle" fill="#262626" textLength="216.0" lengthAdjust="spacingAndGlyphs">(c) The normal distribution diagram of RMSE of the three models running for 50 times.</text>
<rect x="358.00" y="317.92" width="27.20" height="5.88" fill="rgba(0,114,189,0.28)" stroke="#3a3a3a" stroke-opacity="0.55" stroke-width="0.5"/>
<rect x="385.20" y="300.28" width="27.20" height="23.52" fill="rgba(0,114,189,0.28)" stroke="#3a3a3a" stroke-opacity="0.55" stroke-width="0.5"/>
<rect x="412.40" y="298.32" width="27.20" height="25.48" fill="rgba(0,114,189,0.28)" stroke="#3a3a3a" stroke-opacity="0.55" stroke-width="0.5"/>
<rect x="439.60" y="286.56" width="27.20" height="37.24" fill="rgba(0,114,189,0.28)" stroke="#3a3a3a" stroke-opacity="0.55" stroke-width="0.5"/>
<rect x="466.80" y="317.92" width="27.20" height="5.88" fill="rgba(0,114,189,0.28)" stroke="#3a3a3a" stroke-opacity="0.55" stroke-width="0.5"/>
<polyline points="347.60,323.12 348.96,323.01 350.32,322.89 351.69,322.76 353.05,322.61 354.41,322.44 355.77,322.25 357.13,322.04 358.49,321.81 359.86,321.55 361.22,321.27 362.58,320.96 363.94,320.62 365.30,320.24 366.66,319.84 368.03,319.40 369.39,318.92 370.75,318.41 372.11,317.86 373.47,317.27 374.83,316.64 376.19,315.97 377.56,315.26 378.92,314.51 380.28,313.72 381.64,312.89 383.00,312.02 384.37,311.12 385.73,310.18 387.09,309.20 388.45,308.20 389.81,307.17 391.17,306.11 392.54,305.04 393.90,303.95 395.26,302.84 396.62,301.73 397.98,300.61 399.34,299.50 400.71,298.39 402.07,297.29 403.43,296.21 404.79,295.15 406.15,294.12 407.51,293.13 408.88,292.17 410.24,291.25 411.60,290.38 412.96,289.56 414.32,288.79 415.68,288.08 417.05,287.44 418.41,286.86 419.77,286.34 421.13,285.89 422.49,285.51 423.85,285.20 425.22,284.96 426.58,284.78 427.94,284.66 429.30,284.61 430.66,284.60 432.02,284.64 433.38,284.74 434.75,284.89 436.11,285.12 437.47,285.41 438.83,285.76 440.19,286.19 441.56,286.68 442.92,287.24 444.28,287.87 445.64,288.56 447.00,289.30 448.36,290.11 449.73,290.96 451.09,291.87 452.45,292.81 453.81,293.80 455.17,294.82 456.53,295.87 457.89,296.94 459.26,298.03 460.62,299.14 461.98,300.25 463.34,301.37 464.70,302.48 466.06,303.59 467.43,304.69 468.79,305.77 470.15,306.83 471.51,307.87 472.87,308.88 474.24,309.87 475.60,310.82 476.96,311.73 478.32,312.61 479.68,313.46 481.04,314.26 482.40,315.02 483.77,315.75 485.13,316.43 486.49,317.07 487.85,317.67 489.21,318.24 490.57,318.76 491.94,319.25 493.30,319.70 494.66,320.12 496.02,320.50 497.38,320.85 498.75,321.17 500.11,321.46 501.47,321.73 502.83,321.97 504.19,322.19 505.55,322.38 506.91,322.56 508.28,322.71 509.64,322.85 511.00,322.98" fill="none" stroke="#0b4a84" stroke-width="1.8" stroke-linejoin="round" stroke-linecap="butt"/>
<rect x="416.70" y="312.04" width="18.30" height="11.76" fill="rgba(240,224,222,0.42)" stroke="#3a3a3a" stroke-opacity="0.55" stroke-width="0.5"/>
<rect x="435.00" y="302.24" width="18.30" height="21.56" fill="rgba(240,224,222,0.42)" stroke="#3a3a3a" stroke-opacity="0.55" stroke-width="0.5"/>
<rect x="453.30" y="284.60" width="18.30" height="39.20" fill="rgba(240,224,222,0.42)" stroke="#3a3a3a" stroke-opacity="0.55" stroke-width="0.5"/>
<rect x="471.60" y="298.32" width="18.30" height="25.48" fill="rgba(240,224,222,0.42)" stroke="#3a3a3a" stroke-opacity="0.55" stroke-width="0.5"/>
<polyline points="405.00,323.38 405.88,323.31 406.75,323.23 407.62,323.15 408.50,323.05 409.38,322.93 410.25,322.81 411.12,322.66 412.00,322.50 412.88,322.32 413.75,322.12 414.62,321.90 415.50,321.65 416.38,321.38 417.25,321.08 418.12,320.74 419.00,320.38 419.88,319.98 420.75,319.54 421.62,319.07 422.50,318.55 423.38,318.00 424.25,317.40 425.12,316.75 426.00,316.06 426.88,315.32 427.75,314.54 428.62,313.71 429.50,312.82 430.38,311.90 431.25,310.92 432.12,309.90 433.00,308.83 433.88,307.72 434.75,306.57 435.62,305.39 436.50,304.17 437.38,302.93 438.25,301.66 439.12,300.37 440.00,299.07 440.88,297.76 441.75,296.45 442.62,295.15 443.50,293.86 444.38,292.60 445.25,291.36 446.12,290.16 447.00,289.00 447.88,287.90 448.75,286.86 449.62,285.88 450.50,284.98 451.38,284.17 452.25,283.44 453.12,282.81 454.00,282.29 454.88,281.87 455.75,281.56 456.62,281.37 457.50,281.30 458.38,281.37 459.25,281.56 460.12,281.87 461.00,282.29 461.88,282.81 462.75,283.44 463.62,284.17 464.50,284.98 465.38,285.88 466.25,286.86 467.12,287.90 468.00,289.00 468.88,290.16 469.75,291.36 470.62,292.60 471.50,293.86 472.38,295.15 473.25,296.45 474.12,297.76 475.00,299.07 475.88,300.37 476.75,301.66 477.62,302.93 478.50,304.17 479.38,305.39 480.25,306.57 481.12,307.72 482.00,308.83 482.88,309.90 483.75,310.92 484.62,311.90 485.50,312.82 486.38,313.71 487.25,314.54 488.12,315.32 489.00,316.06 489.88,316.75 490.75,317.40 491.62,318.00 492.50,318.55 493.38,319.07 494.25,319.54 495.12,319.98 496.00,320.38 496.88,320.74 497.75,321.08 498.62,321.38 499.50,321.65 500.38,321.90 501.25,322.12 502.12,322.32 503.00,322.50 503.88,322.66 504.75,322.81 505.62,322.93 506.50,323.05 507.38,323.15 508.25,323.23 509.12,323.31 510.00,323.38" fill="none" stroke="#fdb462" stroke-width="1.8" stroke-linejoin="round" stroke-linecap="butt"/>
<rect x="457.40" y="306.16" width="9.00" height="17.64" fill="rgba(255,150,150,0.6)" stroke="#3a3a3a" stroke-opacity="0.55" stroke-width="0.5"/>
<rect x="466.40" y="265.00" width="9.00" height="58.80" fill="rgba(255,150,150,0.6)" stroke="#3a3a3a" stroke-opacity="0.55" stroke-width="0.5"/>
<rect x="475.40" y="302.24" width="9.00" height="21.56" fill="rgba(255,150,150,0.6)" stroke="#3a3a3a" stroke-opacity="0.55" stroke-width="0.5"/>
<polyline points="456.80,323.14 457.05,323.04 457.31,322.92 457.56,322.79 457.81,322.64 458.07,322.47 458.32,322.27 458.57,322.06 458.83,321.81 459.08,321.54 459.33,321.24 459.59,320.90 459.84,320.52 460.09,320.11 460.35,319.65 460.60,319.15 460.85,318.59 461.11,317.99 461.36,317.32 461.61,316.60 461.87,315.82 462.12,314.97 462.37,314.05 462.63,313.06 462.88,312.00 463.13,310.87 463.39,309.66 463.64,308.37 463.89,307.00 464.15,305.56 464.40,304.04 464.65,302.44 464.91,300.77 465.16,299.03 465.41,297.21 465.67,295.34 465.92,293.40 466.17,291.42 466.43,289.38 466.68,287.31 466.93,285.21 467.19,283.09 467.44,280.95 467.69,278.82 467.95,276.70 468.20,274.60 468.45,272.54 468.71,270.53 468.96,268.58 469.21,266.71 469.47,264.94 469.72,263.26 469.97,261.71 470.23,260.28 470.48,259.01 470.73,257.89 470.99,256.94 471.24,256.17 471.49,255.60 471.75,255.23 472.00,255.10 472.25,255.23 472.51,255.60 472.76,256.17 473.01,256.94 473.27,257.89 473.52,259.01 473.77,260.28 474.03,261.71 474.28,263.26 474.53,264.94 474.79,266.71 475.04,268.58 475.29,270.53 475.55,272.54 475.80,274.60 476.05,276.70 476.31,278.82 476.56,280.95 476.81,283.09 477.07,285.21 477.32,287.31 477.57,289.38 477.83,291.42 478.08,293.40 478.33,295.34 478.59,297.21 478.84,299.03 479.09,300.77 479.35,302.44 479.60,304.04 479.85,305.56 480.11,307.00 480.36,308.37 480.61,309.66 480.87,310.87 481.12,312.00 481.37,313.06 481.63,314.05 481.88,314.97 482.13,315.82 482.39,316.60 482.64,317.32 482.89,317.99 483.15,318.59 483.40,319.15 483.65,319.65 483.91,320.11 484.16,320.52 484.41,320.90 484.67,321.24 484.92,321.54 485.17,321.81 485.43,322.06 485.68,322.27 485.93,322.47 486.19,322.64 486.44,322.79 486.69,322.92 486.95,323.04 487.20,323.14" fill="none" stroke="#eb0a0f" stroke-width="1.8" stroke-linejoin="round" stroke-linecap="butt"/>
<rect x="335.6" y="245.4" width="180.80" height="78.40" fill="none" stroke="#6a6a6a" stroke-width="0.7"/>
<line x1="335.60" y1="323.80" x2="337.20" y2="323.80" stroke="#6a6a6a" stroke-width="0.6" />
<line x1="516.40" y1="323.80" x2="514.80" y2="323.80" stroke="#6a6a6a" stroke-width="0.6" />
<text transform="translate(333.60,325.90) scale(0.86,1)" x="0" y="0" font-family="Liberation Sans" font-size="5.6" font-weight="normal" text-anchor="end" fill="#404040" >0</text>
<line x1="335.60" y1="304.20" x2="337.20" y2="304.20" stroke="#6a6a6a" stroke-width="0.6" />
<line x1="516.40" y1="304.20" x2="514.80" y2="304.20" stroke="#6a6a6a" stroke-width="0.6" />
<text transform="translate(333.60,306.30) scale(0.86,1)" x="0" y="0" font-family="Liberation Sans" font-size="5.6" font-weight="normal" text-anchor="end" fill="#404040" >10</text>
<line x1="335.60" y1="284.60" x2="337.20" y2="284.60" stroke="#6a6a6a" stroke-width="0.6" />
<line x1="516.40" y1="284.60" x2="514.80" y2="284.60" stroke="#6a6a6a" stroke-width="0.6" />
<text transform="translate(333.60,286.70) scale(0.86,1)" x="0" y="0" font-family="Liberation Sans" font-size="5.6" font-weight="normal" text-anchor="end" fill="#404040" >20</text>
<line x1="335.60" y1="265.00" x2="337.20" y2="265.00" stroke="#6a6a6a" stroke-width="0.6" />
<line x1="516.40" y1="265.00" x2="514.80" y2="265.00" stroke="#6a6a6a" stroke-width="0.6" />
<text transform="translate(333.60,267.10) scale(0.86,1)" x="0" y="0" font-family="Liberation Sans" font-size="5.6" font-weight="normal" text-anchor="end" fill="#404040" >30</text>
<line x1="335.60" y1="245.40" x2="337.20" y2="245.40" stroke="#6a6a6a" stroke-width="0.6" />
<line x1="516.40" y1="245.40" x2="514.80" y2="245.40" stroke="#6a6a6a" stroke-width="0.6" />
<text transform="translate(333.60,247.50) scale(0.86,1)" x="0" y="0" font-family="Liberation Sans" font-size="5.6" font-weight="normal" text-anchor="end" fill="#404040" >40</text>
<line x1="335.60" y1="323.80" x2="335.60" y2="322.20" stroke="#6a6a6a" stroke-width="0.6" />
<line x1="335.60" y1="245.40" x2="335.60" y2="247.00" stroke="#6a6a6a" stroke-width="0.6" />
<text transform="translate(335.60,331.70) scale(0.86,1)" x="0" y="0" font-family="Liberation Sans" font-size="5.6" font-weight="normal" text-anchor="middle" fill="#404040" >0.3</text>
<line x1="358.20" y1="323.80" x2="358.20" y2="322.20" stroke="#6a6a6a" stroke-width="0.6" />
<line x1="358.20" y1="245.40" x2="358.20" y2="247.00" stroke="#6a6a6a" stroke-width="0.6" />
<text transform="translate(358.20,331.70) scale(0.86,1)" x="0" y="0" font-family="Liberation Sans" font-size="5.6" font-weight="normal" text-anchor="middle" fill="#404040" >0.4</text>
<line x1="380.80" y1="323.80" x2="380.80" y2="322.20" stroke="#6a6a6a" stroke-width="0.6" />
<line x1="380.80" y1="245.40" x2="380.80" y2="247.00" stroke="#6a6a6a" stroke-width="0.6" />
<text transform="translate(380.80,331.70) scale(0.86,1)" x="0" y="0" font-family="Liberation Sans" font-size="5.6" font-weight="normal" text-anchor="middle" fill="#404040" >0.5</text>
<line x1="403.40" y1="323.80" x2="403.40" y2="322.20" stroke="#6a6a6a" stroke-width="0.6" />
<line x1="403.40" y1="245.40" x2="403.40" y2="247.00" stroke="#6a6a6a" stroke-width="0.6" />
<text transform="translate(403.40,331.70) scale(0.86,1)" x="0" y="0" font-family="Liberation Sans" font-size="5.6" font-weight="normal" text-anchor="middle" fill="#404040" >0.6</text>
<line x1="426.00" y1="323.80" x2="426.00" y2="322.20" stroke="#6a6a6a" stroke-width="0.6" />
<line x1="426.00" y1="245.40" x2="426.00" y2="247.00" stroke="#6a6a6a" stroke-width="0.6" />
<text transform="translate(426.00,331.70) scale(0.86,1)" x="0" y="0" font-family="Liberation Sans" font-size="5.6" font-weight="normal" text-anchor="middle" fill="#404040" >0.7</text>
<line x1="448.60" y1="323.80" x2="448.60" y2="322.20" stroke="#6a6a6a" stroke-width="0.6" />
<line x1="448.60" y1="245.40" x2="448.60" y2="247.00" stroke="#6a6a6a" stroke-width="0.6" />
<text transform="translate(448.60,331.70) scale(0.86,1)" x="0" y="0" font-family="Liberation Sans" font-size="5.6" font-weight="normal" text-anchor="middle" fill="#404040" >0.8</text>
<line x1="471.20" y1="323.80" x2="471.20" y2="322.20" stroke="#6a6a6a" stroke-width="0.6" />
<line x1="471.20" y1="245.40" x2="471.20" y2="247.00" stroke="#6a6a6a" stroke-width="0.6" />
<text transform="translate(471.20,331.70) scale(0.86,1)" x="0" y="0" font-family="Liberation Sans" font-size="5.6" font-weight="normal" text-anchor="middle" fill="#404040" >0.9</text>
<line x1="493.80" y1="323.80" x2="493.80" y2="322.20" stroke="#6a6a6a" stroke-width="0.6" />
<line x1="493.80" y1="245.40" x2="493.80" y2="247.00" stroke="#6a6a6a" stroke-width="0.6" />
<text transform="translate(493.80,331.70) scale(0.86,1)" x="0" y="0" font-family="Liberation Sans" font-size="5.6" font-weight="normal" text-anchor="middle" fill="#404040" >1</text>
<line x1="516.40" y1="323.80" x2="516.40" y2="322.20" stroke="#6a6a6a" stroke-width="0.6" />
<line x1="516.40" y1="245.40" x2="516.40" y2="247.00" stroke="#6a6a6a" stroke-width="0.6" />
<text transform="translate(516.40,331.70) scale(0.86,1)" x="0" y="0" font-family="Liberation Sans" font-size="5.6" font-weight="normal" text-anchor="middle" fill="#404040" >1.1</text>
<text x="425.75" y="241.4" font-family="Liberation Serif" font-weight="bold" font-size="6.3" text-anchor="middle" fill="#262626" textLength="204.9" lengthAdjust="spacingAndGlyphs">(d) The normal distribution diagram of <tspan font-style="italic" font-weight="normal">&#961;</tspan> of the three models running for 50 times.</text>
<circle cx="210.8" cy="349.8" r="1.75" fill="#0b4a84"/>
<circle cx="253.2" cy="349.8" r="1.75" fill="#fdb462"/>
<circle cx="308.6" cy="349.8" r="1.75" fill="#eb0a0f"/>
<text x="230.95" y="350.70" font-family="Liberation Serif" font-size="7.0" font-weight="bold" text-anchor="middle" fill="#111" textLength="20.9" lengthAdjust="spacingAndGlyphs">BP-NN</text>
<text x="279.80" y="350.70" font-family="Liberation Serif" font-size="7.0" font-weight="bold" text-anchor="middle" fill="#111" textLength="34.0" lengthAdjust="spacingAndGlyphs">GA-BP-NN</text>
<text x="350.10" y="350.70" font-family="Liberation Serif" font-size="7.0" font-weight="bold" text-anchor="middle" fill="#111" textLength="63.6" lengthAdjust="spacingAndGlyphs">MMAdapGA-BP-NN</text>
</svg>
</body></html>
